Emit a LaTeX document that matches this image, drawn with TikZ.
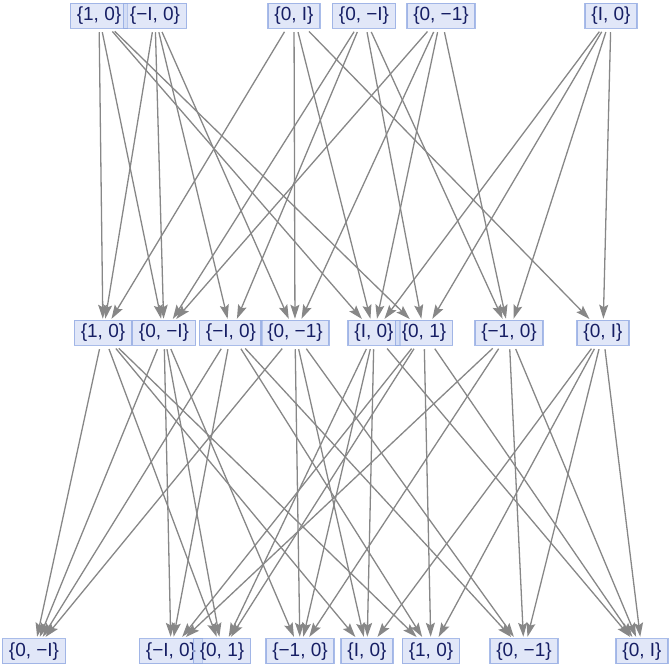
\documentclass[tikz,border=0pt]{standalone}
\usepackage{fontspec}
\setmainfont{Liberation Sans}
\usetikzlibrary{arrows.meta}
\definecolor{boxfill}{RGB}{200,212,242}
\definecolor{boxline}{RGB}{140,165,225}
\definecolor{labeltext}{RGB}{22,30,100}
\definecolor{linkgray}{RGB}{135,135,135}

\begin{document}
\begin{tikzpicture}[x=1pt,y=-1pt,
  state/.style={draw=boxline, draw opacity=0.75, fill=boxfill, fill opacity=0.55, text opacity=1,
    line width=1.5pt, text=labeltext, font=\fontsize{19}{19}\selectfont,
    inner xsep=6.5pt, inner ysep=0pt, minimum height=25pt, text height=14pt, text depth=4pt},
  link/.style={draw=linkgray, line width=1.3pt, -{Stealth[length=14pt,width=9pt,inset=2.5pt]},
    shorten >=1pt, shorten <=3pt}]
\useasboundingbox (0,0) rectangle (670,668);

%top row
\node[state] (t1) at (99,16) {\{1, 0\}};
\node[state] (t2) at (155,16) {\{−I, 0\}};
\node[state] (t3) at (294,16) {\{0, I\}};
\node[state] (t4) at (364,16) {\{0, −I\}};
\node[state] (t5) at (441,16) {\{0, −1\}};
\node[state] (t6) at (611,16) {\{I, 0\}};

%middle row
\node[state] (m1) at (103,333) {\{1, 0\}};
\node[state] (m2) at (164,333) {\{0, −I\}};
\node[state] (m3) at (231,333) {\{−I, 0\}};
\node[state] (m4) at (295,333) {\{0, −1\}};
\node[state] (m5) at (374,333) {\{I, 0\}};
\node[state] (m6) at (424,333) {\{0, 1\}};
\node[state] (m7) at (509,333) {\{−1, 0\}};
\node[state] (m8) at (603,333) {\{0, I\}};

%bottom row
\node[state] (b1) at (34,651) {\{0, −I\}};
\node[state] (b2) at (171,651) {\{−I, 0\}};
\node[state] (b3) at (222,651) {\{0, 1\}};
\node[state] (b4) at (300,651) {\{−1, 0\}};
\node[state] (b5) at (367,651) {\{I, 0\}};
\node[state] (b6) at (431,651) {\{1, 0\}};
\node[state] (b7) at (524,651) {\{0, −1\}};
\node[state] (b8) at (642,651) {\{0, I\}};

%top to middle
\draw[link] (t1) -- (m1);
\draw[link] (t1) -- (m2);
\draw[link] (t1) -- (m5);
\draw[link] (t1) -- (m6);
\draw[link] (t2) -- (m1);
\draw[link] (t2) -- (m2);
\draw[link] (t2) -- (m3);
\draw[link] (t2) -- (m4);
\draw[link] (t3) -- (m1);
\draw[link] (t3) -- (m4);
\draw[link] (t3) -- (m5);
\draw[link] (t3) -- (m8);
\draw[link] (t4) -- (m2);
\draw[link] (t4) -- (m3);
\draw[link] (t4) -- (m6);
\draw[link] (t4) -- (m7);
\draw[link] (t5) -- (m2);
\draw[link] (t5) -- (m4);
\draw[link] (t5) -- (m5);
\draw[link] (t5) -- (m7);
\draw[link] (t6) -- (m5);
\draw[link] (t6) -- (m6);
\draw[link] (t6) -- (m7);
\draw[link] (t6) -- (m8);

%middle to bottom
\draw[link] (m1) -- (b1);
\draw[link] (m1) -- (b3);
\draw[link] (m1) -- (b5);
\draw[link] (m1) -- (b6);
\draw[link] (m2) -- (b1);
\draw[link] (m2) -- (b2);
\draw[link] (m2) -- (b3);
\draw[link] (m2) -- (b4);
\draw[link] (m3) -- (b1);
\draw[link] (m3) -- (b2);
\draw[link] (m3) -- (b6);
\draw[link] (m3) -- (b7);
\draw[link] (m4) -- (b1);
\draw[link] (m4) -- (b4);
\draw[link] (m4) -- (b5);
\draw[link] (m4) -- (b7);
\draw[link] (m5) -- (b3);
\draw[link] (m5) -- (b4);
\draw[link] (m5) -- (b5);
\draw[link] (m5) -- (b8);
\draw[link] (m6) -- (b2);
\draw[link] (m6) -- (b3);
\draw[link] (m6) -- (b6);
\draw[link] (m6) -- (b8);
\draw[link] (m7) -- (b2);
\draw[link] (m7) -- (b4);
\draw[link] (m7) -- (b7);
\draw[link] (m7) -- (b8);
\draw[link] (m8) -- (b5);
\draw[link] (m8) -- (b6);
\draw[link] (m8) -- (b7);
\draw[link] (m8) -- (b8);
\end{tikzpicture}
\end{document}
